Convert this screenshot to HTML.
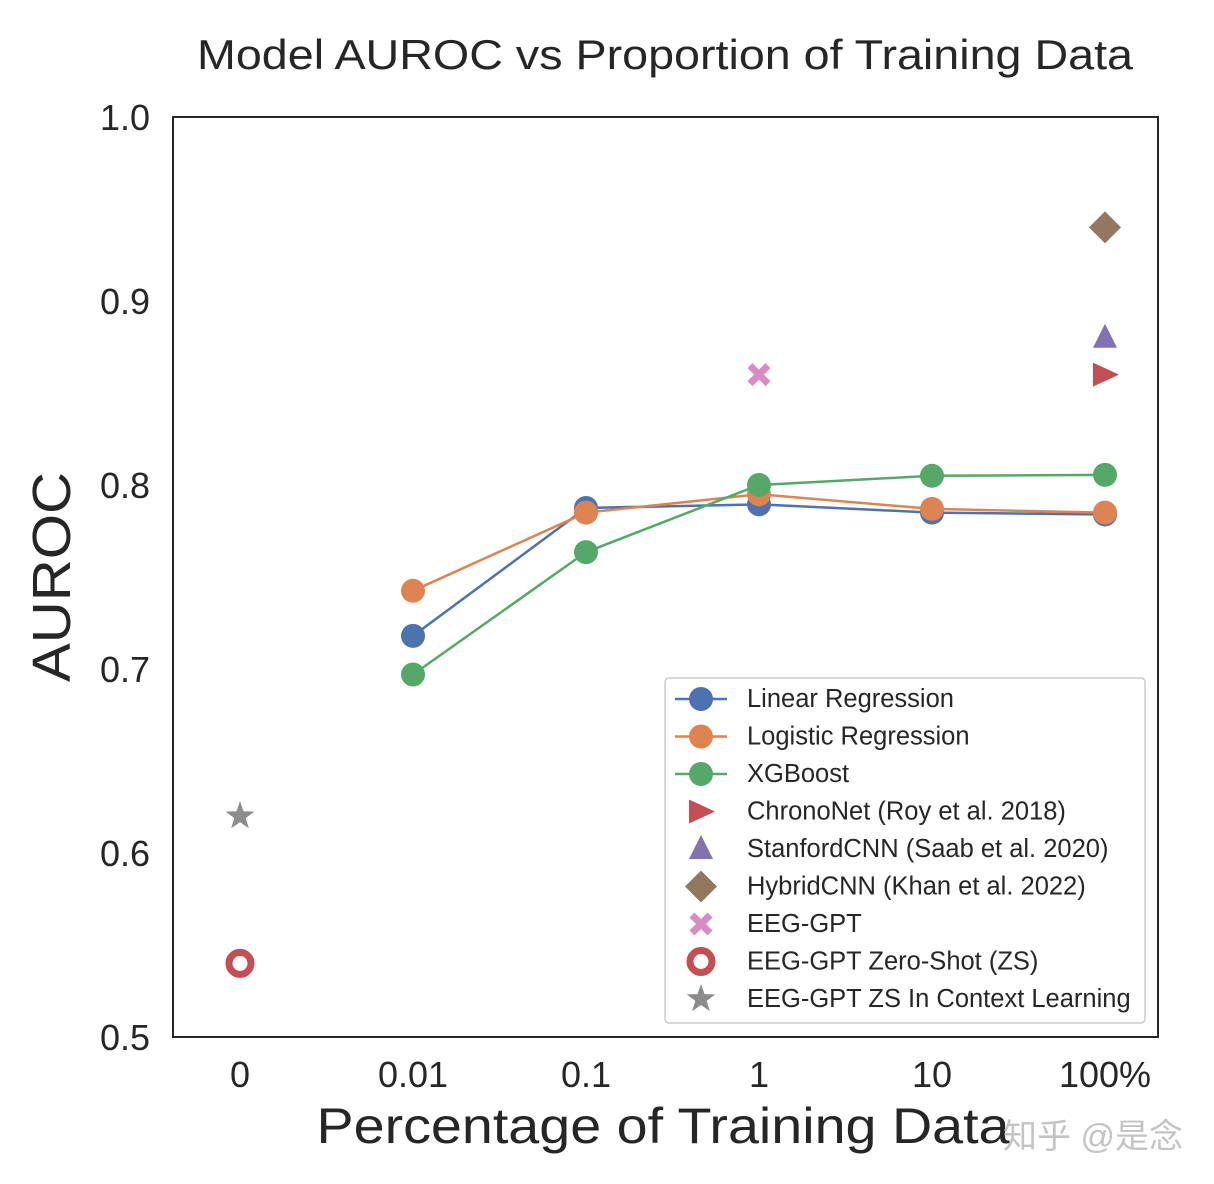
<!DOCTYPE html>
<html><head><meta charset="utf-8"><style>
body{margin:0;background:#fff}
svg{display:block}
text{font-family:"Liberation Sans","Noto Sans CJK SC",sans-serif;fill:#262626}
</style></head><body>
<svg id="chart" width="1214" height="1184" viewBox="0 0 1214 1184">
<text x="665" y="69" font-size="42" text-anchor="middle" textLength="936" lengthAdjust="spacingAndGlyphs">Model AUROC vs Proportion of Training Data</text>
<rect x="173" y="117" width="985" height="920" fill="none" stroke="#262626" stroke-width="2"/>
<g id="yticks"></g><g id="xticks"></g>
<text x="70" y="577" font-size="54" text-anchor="middle" textLength="210" lengthAdjust="spacingAndGlyphs" transform="rotate(-90 70 577)">AUROC</text>
<text x="663" y="1143" font-size="50" text-anchor="middle" textLength="693" lengthAdjust="spacingAndGlyphs">Percentage of Training Data</text>
<g id="series"></g>
<g id="legend"></g>
<text x="1183" y="1148" font-size="34" text-anchor="end" style="fill:#c4c4c4">知乎 @是念</text>
</svg>
<script>
const categories=["0","0.01","0.1","1","10","100%"];
const yTicks=[0.5,0.6,0.7,0.8,0.9,1.0];
const linearVals=[null,0.718,0.7875,0.7895,0.785,0.784];
const logisticVals=[null,0.7425,0.785,0.795,0.787,0.785];
const xgbVals=[null,0.697,0.7635,0.800,0.805,0.8055];
const chrononet={cat:5,val:0.860};
const stanford={cat:5,val:0.880};
const hybrid={cat:5,val:0.940};
const eeggpt={cat:3,val:0.860};
const zeroShot={cat:0,val:0.540};
const icl={cat:0,val:0.620};
const NS="http://www.w3.org/2000/svg";
const X=i=>240+i*173;
const Y=v=>1037-(v-0.5)*1840;
function el(t,a,p){const e=document.createElementNS(NS,t);for(const k in a)e.setAttribute(k,a[k]);p.appendChild(e);return e;}
const yt=document.getElementById('yticks');
yTicks.forEach(v=>{const t=el('text',{x:150,y:Y(v)+13,'font-size':36,'text-anchor':'end'},yt);t.textContent=v.toFixed(1);

});
const xt=document.getElementById('xticks');
categories.forEach((c,i)=>{const t=el('text',{x:X(i),y:1087,'font-size':36,'text-anchor':'middle'},xt);t.textContent=c;

});
const sg=document.getElementById('series');
function marker(type,x,y,c,g){
 let m;
 if(type==='circle')m=el('circle',{cx:x,cy:y,r:12,fill:c},g);
 else if(type==='ring')m=el('circle',{cx:x,cy:y,r:11,fill:'#fff',stroke:c,'stroke-width':7},g);
 else if(type==='tri-right')m=el('polygon',{points:`${x-12},${y-12} ${x+14},${y} ${x-12},${y+12}`,fill:c},g);
 else if(type==='tri-up')m=el('polygon',{points:`${x},${y-14} ${x+12},${y+10} ${x-12},${y+10}`,fill:c},g);
 else if(type==='diamond')m=el('polygon',{points:`${x},${y-16} ${x+16},${y} ${x},${y+16} ${x-16},${y}`,fill:c},g);
 else if(type==='x'){m=el('path',{d:`M${x-9},${y-9}L${x+9},${y+9}M${x+9},${y-9}L${x-9},${y+9}`,stroke:c,'stroke-width':7},g);}
 else if(type==='star'){let p=[];for(let k=0;k<10;k++){const r=k%2?6:15,a=-Math.PI/2+k*Math.PI/5;p.push((x+r*Math.cos(a)).toFixed(1)+','+(y+r*Math.sin(a)).toFixed(1));}m=el('polygon',{points:p.join(' '),fill:c},g);}
 return m;
}
const lines=[[linearVals,'#4c72b0','linear-regression-series'],[logisticVals,'#dd8452','logistic-regression-series'],[xgbVals,'#55a868','xgboost-series']];
lines.forEach(([vals,c,n])=>{
 const g=el('g',{},sg);
 
 
 const pts=[];vals.forEach((v,i)=>{if(v!=null)pts.push(X(i)+','+Y(v));});
 el('polyline',{points:pts.join(' '),fill:'none',stroke:c,'stroke-width':2.5},g);
 vals.forEach((v,i)=>{if(v!=null){const m=marker('circle',X(i),Y(v),c,g);
 
 }});
});
const singles=[[chrononet,'tri-right','#c44e52','chrononet-point'],[stanford,'tri-up','#8172b3','stanfordcnn-point'],[hybrid,'diamond','#937860','hybridcnn-point'],[eeggpt,'x','#da8bc3','eeg-gpt-point'],[zeroShot,'ring','#c44e52','eeg-gpt-zs-point'],[icl,'star','#8c8c8c','eeg-gpt-icl-point']];
singles.forEach(([d,t,c,n])=>{const m=marker(t,X(d.cat),Y(d.val),c,sg);
 
 });
const lg=document.getElementById('legend');
el('rect',{x:665,y:678,width:480,height:345,rx:4,fill:'#fff',stroke:'#cccccc','stroke-width':1.5},lg);
const entries=[['Linear Regression','circle','#4c72b0',1],['Logistic Regression','circle','#dd8452',1],['XGBoost','circle','#55a868',1],['ChronoNet (Roy et al. 2018)','tri-right','#c44e52',0],['StanfordCNN (Saab et al. 2020)','tri-up','#8172b3',0],['HybridCNN (Khan et al. 2022)','diamond','#937860',0],['EEG-GPT','x','#da8bc3',0],['EEG-GPT Zero-Shot (ZS)','ring','#c44e52',0],['EEG-GPT ZS In Context Learning','star','#8c8c8c',0]];
entries.forEach(([lab,t,c,line],i)=>{
 const y=699+i*37.5;const g=el('g',{},lg);
 
 
 if(line)el('line',{x1:675,y1:y,x2:727,y2:y,stroke:c,'stroke-width':2.5},g);
 marker(t,701,y,c,g);
 const tx=el('text',{x:747,y:y+8,'font-size':25.5},g);tx.textContent=lab;
});
</script>
</body></html>
